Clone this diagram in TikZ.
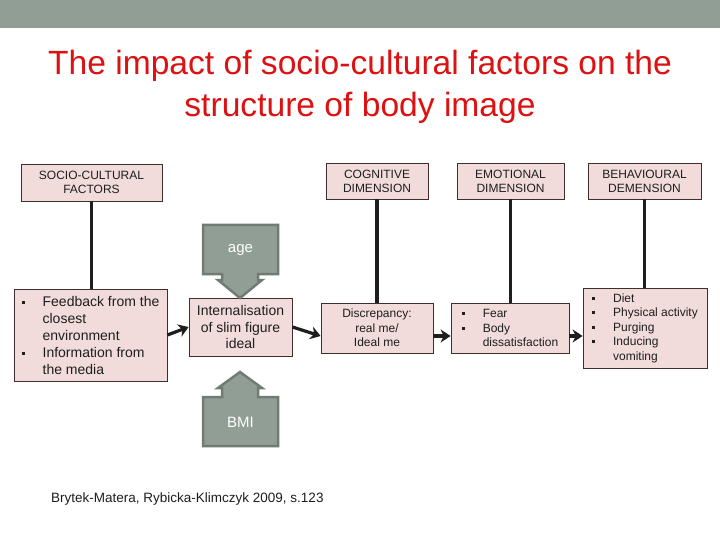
\documentclass[tikz,border=0pt]{standalone}
\usepackage{fontspec}
\setmainfont{Liberation Sans}
\usetikzlibrary{arrows.meta}
\definecolor{barcol}{HTML}{919E95}
\definecolor{greyedge}{HTML}{6F7B73}
\definecolor{titlered}{HTML}{DD1111}
\definecolor{boxfill}{HTML}{F2DCDB}
\definecolor{boxedge}{HTML}{3E2E2E}
\definecolor{ink}{HTML}{1E1E1E}
\newcommand{\bul}{\makebox[21pt][l]{\raisebox{2.5pt}{\rule{3pt}{3pt}}}}
\newcommand{\ind}{\hspace*{21pt}}
\tikzset{
  box/.style={draw=boxedge, line width=0.8pt, fill=boxfill, text=ink, inner sep=0pt, align=center},
  hdr/.style={box, font=\fontsize{12}{14}\selectfont},
  body/.style={box, font=\fontsize{14}{17}\selectfont},
  small/.style={box, font=\fontsize{12}{14.5}\selectfont},
  conn/.style={draw=ink, line width=3.2pt},
  flow/.style={draw=ink, line width=3.2pt, -{Stealth[length=10pt,width=13pt]}},
  greybox/.style={fill=barcol, draw=greyedge, line width=2.5pt, line join=miter},
  greytext/.style={text=white, font=\fontsize{15}{18}\selectfont}
}
\begin{document}
\begin{tikzpicture}[x=1pt,y=-1pt]
\useasboundingbox (0,0) rectangle (720,540);
\fill[white] (0,0) rectangle (720,540);
\fill[barcol] (0,0) rectangle (720,28);
% title
\node[text=titlered, font=\fontsize{33.6}{42}\selectfont, align=center] (title) at (360,87) {The impact of socio-cultural factors on the\\structure of body image};
% headers
\node[hdr, minimum width=141pt, minimum height=37pt] (hsoc) at (91.5,182.5) {SOCIO-CULTURAL\\FACTORS};
\node[hdr, minimum width=102pt, minimum height=36pt] (hcog) at (377,181) {COGNITIVE\\DIMENSION};
\node[hdr, minimum width=107pt, minimum height=36pt] (hemo) at (510.5,181) {EMOTIONAL\\DIMENSION};
\node[hdr, minimum width=113pt, minimum height=36pt] (hbeh) at (644.5,181) {BEHAVIOURAL\\DEMENSION};
% content boxes
\node[body, minimum width=153pt, minimum height=92pt, align=left] (fb) at (90.5,335) {\bul Feedback from the\\\ind closest\\\ind environment\\\bul Information from\\\ind the media};
\node[body, minimum width=103pt, minimum height=58pt, font=\fontsize{14}{16.5}\selectfont] (int) at (240.5,327) {Internalisation\\of slim figure\\ideal};
\node[small, minimum width=112pt, minimum height=50pt] (disc) at (377,328) {Discrepancy:\\real me/\\Ideal me};
\node[small, minimum width=118pt, minimum height=50pt, align=left] (fear) at (510,328) {\bul Fear\\\bul Body\\\ind dissatisfaction};
\node[small, minimum width=124pt, minimum height=80pt, align=left] (diet) at (645,328) {\bul Diet\\\bul Physical activity\\\bul Purging\\\bul Inducing\\\ind vomiting};
% vertical connectors
\draw[conn] (hsoc.south) -- (hsoc.south |- fb.north);
\draw[conn] (hcog.south) -- (hcog.south |- disc.north);
\draw[conn] (hemo.south) -- (hemo.south |- fear.north);
\draw[conn] (hbeh.south) -- (hbeh.south |- diet.north);
% flow arrows
\draw[flow] (fb.east) -- (int.west);
\draw[flow] (int.east) -- ([yshift=-8pt]disc.west);
\draw[flow] ([yshift=-8pt]disc.east) -- ([yshift=-8pt]fear.west);
\draw[flow] ([yshift=-8pt]fear.east) -- ([yshift=-8pt]diet.west);
% age callout
\draw[greybox] (203,225) -- (278,225) -- (278,274) -- (258,274) -- (258,280) -- (262,280)
  -- (240,298) -- (218,280) -- (222,280) -- (222,274) -- (203,274) -- cycle;
\node[greytext] (age) at (240.5,250) {age};
% BMI callout
\draw[greybox] (203,446) -- (278,446) -- (278,397) -- (258,397) -- (258,388) -- (262,388)
  -- (240,372) -- (218,388) -- (222,388) -- (222,397) -- (203,397) -- cycle;
\node[greytext] (bmi) at (240.5,422) {BMI};
% citation
\node[text=ink, font=\fontsize{13.5}{16}\selectfont, anchor=base west, inner sep=0pt] (cite) at (51,502) {Brytek-Matera, Rybicka-Klimczyk 2009, s.123};
\end{tikzpicture}
\end{document}
